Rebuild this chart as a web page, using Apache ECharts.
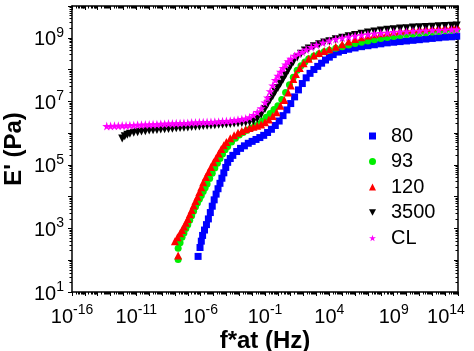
<!DOCTYPE html>
<html>
<head>
<meta charset="utf-8">
<script src="https://cdn.jsdelivr.net/npm/echarts@6/dist/echarts.min.js"></script>
<style>
  html, body { margin: 0; padding: 0; background: #fff; }
  #chart { width: 474px; height: 351px; }
</style>
</head>
<body>
<div id="chart"></div>
<script>
// values, stored as log10(f*aT) and log10(E')
const seriesNames = ['80', '93', '120', '3500', 'CL'];

const logF80 = [-6.2,-6.05,-5.95,-5.85,-5.7,-5.55,-5.4,-5.25,-5.1,-4.95,-4.8,-4.65,-4.5,-4.35,-4.2,-4.05,-3.9,-3.7,-3.5,-3.2,-2.9,-2.6,-2.3,-2.0,-1.7,-1.4,-1.1,-0.8,-0.5,-0.2,0.1,0.4,0.7,1.0,1.3,1.6,1.9,2.2,2.5,2.8,3.1,3.4,3.7,4.0,4.3,4.7,5.1,5.5,6.0,6.5,7.0,7.5,8.0,8.5,9.0,9.5,10.0,10.5,11.0,11.5,12.0,12.5,13.0,13.5,13.9];
const logE80 = [2.12,2.4,2.6,2.78,2.95,3.12,3.3,3.5,3.7,3.9,4.08,4.25,4.42,4.58,4.75,4.92,5.08,5.2,5.3,5.42,5.52,5.6,5.68,5.74,5.8,5.86,5.93,6.02,6.12,6.24,6.38,6.55,6.73,6.93,7.14,7.36,7.56,7.74,7.88,8.0,8.1,8.2,8.3,8.39,8.47,8.55,8.6,8.64,8.68,8.72,8.75,8.78,8.81,8.84,8.86,8.88,8.9,8.92,8.94,8.96,8.98,9.0,9.02,9.03,9.05];

const logF93 = [-7.75,-7.75,-7.6,-7.45,-7.3,-7.15,-7.0,-6.85,-6.7,-6.55,-6.4,-6.25,-6.1,-5.95,-5.8,-5.65,-5.5,-5.3,-5.1,-4.9,-4.7,-4.5,-4.3,-4.1,-3.9,-3.6,-3.3,-3.0,-2.7,-2.4,-2.1,-1.8,-1.5,-1.2,-0.9,-0.6,-0.3,0.0,0.3,0.6,0.9,1.2,1.5,1.8,2.1,2.4,2.8,3.2,3.6,4.0,4.5,5.0,5.5,6.0,6.5,7.0,7.5,8.0,8.5,9.0,9.5,10.0,10.5,11.0,11.5,12.0,12.5,13.0,13.5,13.9];
const logE93 = [2.02,2.38,2.55,2.72,2.86,3.0,3.12,3.26,3.4,3.54,3.68,3.8,3.92,4.04,4.16,4.28,4.4,4.57,4.74,4.9,5.05,5.2,5.34,5.48,5.58,5.72,5.84,5.94,6.02,6.09,6.15,6.22,6.28,6.38,6.5,6.62,6.74,6.86,7.06,7.28,7.52,7.76,7.98,8.12,8.24,8.34,8.43,8.5,8.56,8.61,8.67,8.72,8.77,8.82,8.86,8.9,8.94,8.98,9.01,9.04,9.07,9.1,9.12,9.14,9.16,9.18,9.2,9.22,9.24,9.25];

const logF120 = [-7.75,-8.0,-7.8,-7.6,-7.45,-7.3,-7.15,-7.0,-6.85,-6.7,-6.55,-6.4,-6.25,-6.1,-5.95,-5.8,-5.6,-5.4,-5.2,-5.0,-4.8,-4.6,-4.4,-4.2,-4.0,-3.7,-3.4,-3.1,-2.8,-2.5,-2.2,-1.9,-1.6,-1.3,-1.0,-0.7,-0.4,-0.1,0.2,0.5,0.8,1.0,1.2,1.4,1.7,2.0,2.4,2.8,3.2,3.6,4.0,4.5,5.0,5.5,6.0,6.5,7.0,7.5,8.0,8.5,9.0,9.5,10.0,10.5,11.0,11.5,12.0,12.5,13.0,13.5,13.9];
const logE120 = [2.15,2.6,2.72,2.85,2.95,3.06,3.18,3.3,3.45,3.58,3.72,3.86,4.0,4.15,4.3,4.45,4.62,4.78,4.93,5.08,5.22,5.36,5.5,5.62,5.72,5.84,5.93,6.01,6.07,6.12,6.16,6.2,6.23,6.27,6.34,6.43,6.54,6.66,6.86,7.04,7.28,7.5,7.7,7.86,8.05,8.2,8.34,8.44,8.52,8.58,8.64,8.72,8.8,8.88,8.96,9.02,9.07,9.11,9.14,9.17,9.2,9.22,9.25,9.27,9.29,9.31,9.32,9.34,9.35,9.36,9.37];

const logF3500 = [-12.1,-11.9,-11.7,-11.5,-11.2,-10.9,-10.6,-10.3,-10.0,-9.7,-9.4,-9.1,-8.8,-8.5,-8.2,-7.9,-7.6,-7.3,-7.0,-6.7,-6.4,-6.1,-5.8,-5.5,-5.2,-4.9,-4.6,-4.3,-4.0,-3.7,-3.4,-3.1,-2.8,-2.5,-2.2,-1.9,-1.6,-1.3,-1.0,-0.8,-0.6,-0.4,-0.2,0.0,0.2,0.4,0.6,0.8,1.0,1.2,1.5,1.8,2.1,2.4,2.8,3.2,3.6,4.0,4.5,5.0,5.5,6.0,6.5,7.0,7.5,8.0,8.5,9.0,9.5,10.0,10.5,11.0,11.5,12.0,12.5,13.0,13.5,13.9];
const logE3500 = [5.83,5.9,5.95,5.98,6.01,6.03,6.05,6.06,6.08,6.09,6.1,6.11,6.12,6.13,6.14,6.15,6.16,6.17,6.18,6.19,6.2,6.21,6.22,6.23,6.24,6.25,6.26,6.27,6.28,6.29,6.3,6.31,6.32,6.33,6.35,6.38,6.45,6.58,6.76,6.9,7.04,7.16,7.3,7.42,7.55,7.69,7.83,7.97,8.12,8.24,8.38,8.5,8.6,8.66,8.73,8.8,8.85,8.89,8.95,9.0,9.05,9.09,9.13,9.17,9.2,9.23,9.25,9.27,9.29,9.3,9.32,9.33,9.34,9.35,9.36,9.37,9.38,9.39];

const logFCL = [-13.3,-13.0,-12.7,-12.4,-12.1,-11.8,-11.5,-11.2,-10.9,-10.6,-10.3,-10.0,-9.7,-9.4,-9.1,-8.8,-8.5,-8.2,-7.9,-7.6,-7.3,-7.0,-6.7,-6.4,-6.1,-5.8,-5.5,-5.2,-4.9,-4.6,-4.3,-4.0,-3.7,-3.4,-3.1,-2.8,-2.5,-2.2,-1.9,-1.6,-1.3,-1.0,-0.8,-0.6,-0.4,-0.2,0.0,0.2,0.4,0.6,0.8,1.0,1.3,1.6,1.9,2.2,2.6,3.0,3.5,4.0,4.5,5.0,5.5,6.0,6.5,7.0,7.5,8.0,8.5,9.0,9.5,10.0,10.5,11.0,11.5,12.0,12.5,13.0,13.5,13.9];
const logECL = [6.22,6.22,6.23,6.23,6.24,6.24,6.25,6.25,6.26,6.26,6.27,6.27,6.28,6.28,6.29,6.29,6.3,6.3,6.31,6.31,6.32,6.32,6.33,6.33,6.34,6.34,6.35,6.35,6.36,6.36,6.37,6.38,6.39,6.4,6.42,6.44,6.46,6.5,6.57,6.66,6.78,6.96,7.12,7.32,7.5,7.67,7.8,7.93,8.05,8.16,8.26,8.34,8.43,8.5,8.56,8.63,8.71,8.78,8.85,8.91,8.96,9.0,9.03,9.06,9.09,9.11,9.13,9.15,9.16,9.18,9.19,9.2,9.21,9.22,9.23,9.24,9.24,9.25,9.26,9.26];

const FONT = "'Liberation Sans', Arial, sans-serif";
const STAR = 'path://M50,0 L61,35 L98,35 L68,57 L79,91 L50,70 L21,91 L32,57 L2,35 L39,35 Z';
const DOWN_TRI = 'path://M0,0 L10,0 L5,9 Z';

function toPoints(logF, logE) {
    return logF.map((f, i) => [Math.pow(10, f), Math.pow(10, logE[i])]);
}

const styles = [
    { data: toPoints(logF80, logE80), color: '#0000ff', symbol: 'rect', size: 7 },
    { data: toPoints(logF93, logE93), color: '#00ee00', symbol: 'circle', size: 7 },
    { data: toPoints(logF120, logE120), color: '#ff0000', symbol: 'triangle', size: 8 },
    { data: toPoints(logF3500, logE3500), color: '#000000', symbol: DOWN_TRI, size: 8 },
    { data: toPoints(logFCL, logECL), color: '#ff00ff', symbol: STAR, size: 9 }
];

// "10" with a raised exponent
const rich = {
    b: { fontSize: 20, fontFamily: FONT, color: '#000', verticalAlign: 'bottom', lineHeight: 24 },
    s: { fontSize: 14, fontFamily: FONT, color: '#000', verticalAlign: 'top', lineHeight: 14 },
    gap: { width: 24 }
};

function powLabel(v) {
    const e = Math.round(Math.log10(v));
    return '{b|10}{s|' + e + '}';
}

const axisLine = { show: true, lineStyle: { color: '#000', width: 1.5 } };
const nameStyle = { fontSize: 24, fontWeight: 'bold', fontFamily: FONT, color: '#000' };

function xAxisDef(pos, inside, labels) {
    return {
        type: 'log', logBase: 10, position: pos, min: 1e-16, max: 1e14,
        splitNumber: 30, interval: 1,
        axisLine: axisLine,
        axisTick: { show: true, inside: inside, length: 4, lineStyle: { color: '#000', width: 1 } },
        minorTick: { show: true, splitNumber: 9, length: 2.5, lineStyle: { color: '#000', width: 1 } },
        splitLine: { show: false },
        axisLabel: labels ? {
            show: true, margin: 11, fontSize: 20, fontFamily: FONT, color: '#000', rich: rich,
            formatter: v => {
                const e = Math.round(Math.log10(v));
                if ((e + 16) % 5 !== 0) return '';
                // last label is pulled left so it stays inside the picture
                return e === 14 ? powLabel(v) + '{gap|}' : powLabel(v);
            }
        } : { show: false },
        name: labels ? 'f*at (Hz)' : '',
        nameLocation: 'middle', nameGap: 37, nameMoveOverlap: false,
        nameTextStyle: nameStyle
    };
}

function yAxisDef(pos, inside, labels) {
    return {
        type: 'log', logBase: 10, position: pos, min: 1e1, max: 1e10,
        splitNumber: 9, interval: 1,
        axisLine: axisLine,
        axisTick: { show: true, inside: inside, length: 4, lineStyle: { color: '#000', width: 1 } },
        minorTick: { show: true, splitNumber: 9, length: 2.5, lineStyle: { color: '#000', width: 1 } },
        splitLine: { show: false },
        axisLabel: labels ? {
            show: true, margin: 8, fontSize: 20, fontFamily: FONT, color: '#000', rich: rich,
            formatter: v => {
                const e = Math.round(Math.log10(v));
                return Math.abs(e) % 2 === 1 ? powLabel(v) : '';
            }
        } : { show: false },
        name: labels ? "E' (Pa)" : '',
        nameLocation: 'middle', nameGap: 46, nameMoveOverlap: false,
        nameTextStyle: nameStyle
    };
}

const chart = echarts.init(document.getElementById('chart'), null, { renderer: 'canvas' });
chart.setOption({
    animation: false,
    backgroundColor: '#fff',
    grid: { left: 72, right: 16, top: 6, bottom: 59, containLabel: false, outerBoundsMode: 'none' },
    legend: {
        orient: 'vertical', left: 364, top: 121,
        itemWidth: 7, itemHeight: 7, itemGap: 5.5,
        textStyle: { fontSize: 20, fontFamily: FONT, color: '#000', lineHeight: 20, padding: [0, 0, 0, 10] },
        data: seriesNames
    },
    xAxis: [xAxisDef('bottom', false, true), xAxisDef('top', true, false)],
    yAxis: [yAxisDef('left', false, true), yAxisDef('right', true, false)],
    series: seriesNames.map((name, i) => ({
        name: name,
        type: 'scatter',
        xAxisIndex: 0, yAxisIndex: 0,
        symbol: styles[i].symbol,
        symbolSize: styles[i].size,
        itemStyle: { color: styles[i].color, opacity: 1 },
        data: styles[i].data,
        silent: true
    }))
});
</script>
</body>
</html>
